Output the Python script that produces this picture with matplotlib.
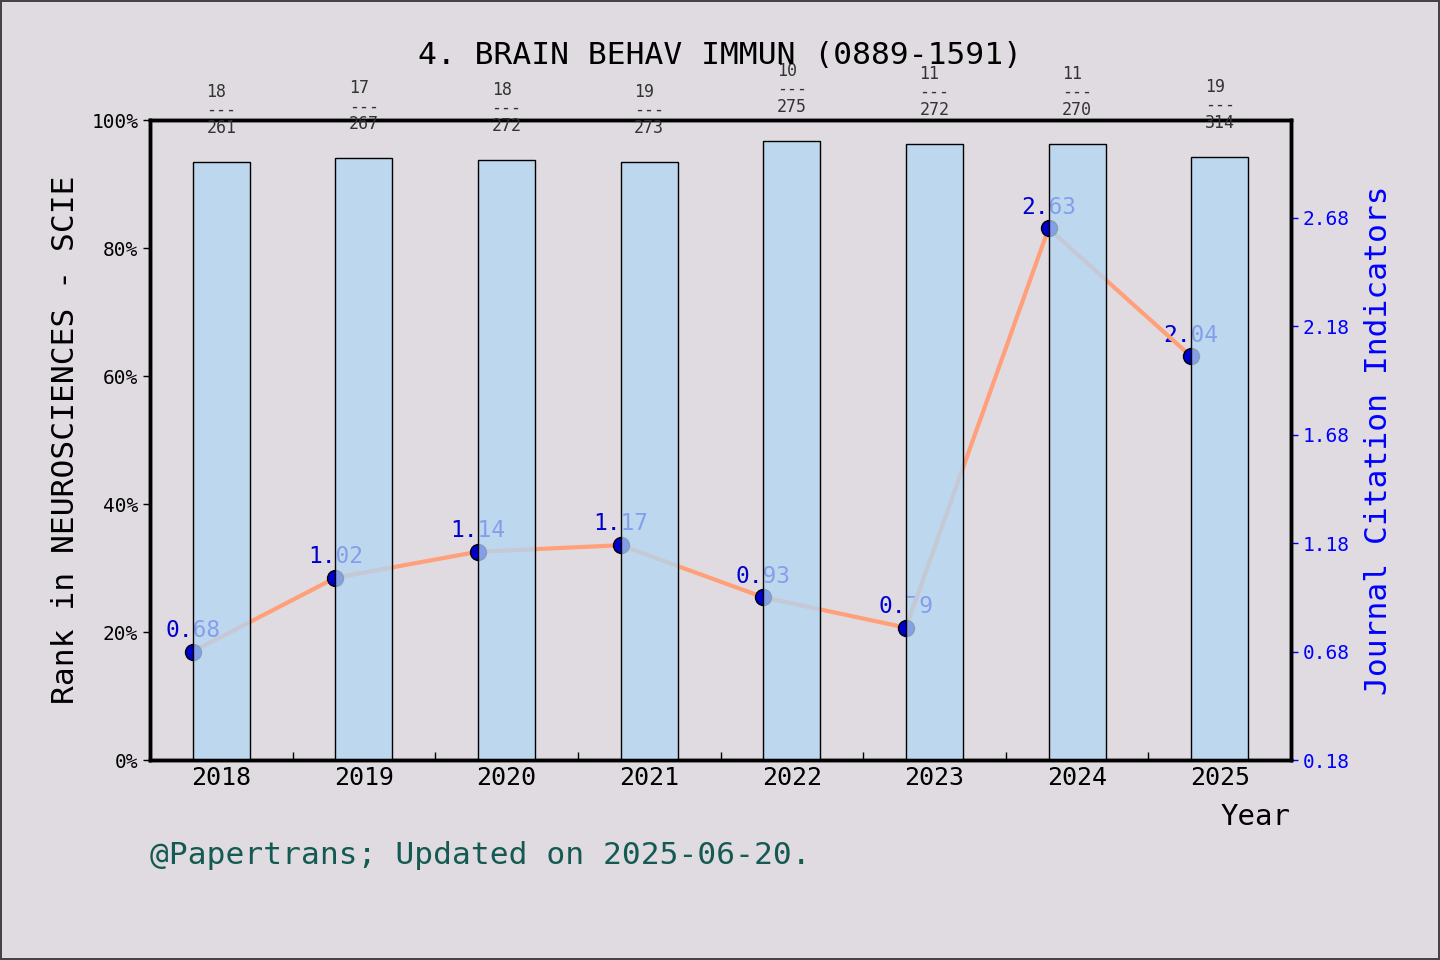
import numpy as np
import matplotlib
matplotlib.use('Agg')
import matplotlib.pyplot as plt

# data
years = ['2018', '2019', '2020', '2021', '2022', '2023', '2024', '2025']
rank = [18, 17, 18, 19, 10, 11, 11, 19]
total = [261, 267, 272, 273, 275, 272, 270, 314]
jci = [0.68, 1.02, 1.14, 1.17, 0.93, 0.79, 2.63, 2.04]

title = '4. BRAIN BEHAV IMMUN (0889-1591)'
footer = '@Papertrans; Updated on 2025-06-20.'

plt.rcParams['font.family'] = ['DejaVu Sans Mono']

BG = '#DFDBE0'
BAR = (178 / 255, 214 / 255, 244 / 255, 0.75)
LINE = '#FFA07A'
DOT = '#0000CD'

pct = [(t - r + 1) / t * 100 for r, t in zip(rank, total)]
x = np.arange(len(years))

fig = plt.figure(figsize=(14.4, 9.6), dpi=100, facecolor=BG,
                 edgecolor='#444444', linewidth=1.5)
ax = fig.add_axes([150 / 1440, 1 - 760 / 960, 1141 / 1440, 640 / 960])
axr = ax.twinx()
# bars sit on top of the line axis
ax.set_zorder(axr.get_zorder() + 1)
ax.patch.set_visible(False)
axr.patch.set_facecolor('white')

# line on right axis
axr.plot(x - 0.2, jci, color=LINE, lw=3, marker='o', ms=11.5,
         mfc=DOT, mec='black', mew=1, zorder=3)
for xi, v in zip(x, jci):
    axr.annotate(f'{v:.2f}', (xi - 0.2, v), xytext=(0, 7),
                 textcoords='offset points', ha='center', va='bottom',
                 color=DOT, fontsize=16.5, zorder=2)
lo = min(jci) - 0.5
axr.set_ylim(lo, max(jci) + 0.5)
rticks = lo + 0.5 * np.arange(6)
axr.set_yticks(rticks, [f'{t:.2f}' for t in rticks])
axr.tick_params(axis='y', colors='blue', labelsize=14, length=5, width=1)
axr.set_ylabel('Journal Citation Indicators', color='blue', fontsize=22.5,
               labelpad=10)

# bars on left axis
ax.bar(x, pct, width=0.4, facecolor=BAR, edgecolor='black', linewidth=1)
for xi, p, r, t in zip(x, pct, rank, total):
    ax.annotate(f'{r}\n---\n{t}', (xi, p), xytext=(0, 18),
                textcoords='offset points', ha='center', va='bottom',
                ma='left', fontsize=12, linespacing=1.0, color='#333333',
                annotation_clip=False)

ax.set_xlim(-0.5, len(years) - 0.5)
ax.set_ylim(0, 100)
ax.set_yticks(np.arange(0, 101, 20), [f'{v}%' for v in range(0, 101, 20)])
ax.tick_params(axis='y', labelsize=14, length=5, width=1)
ax.set_xticks(x, years)
ax.set_xticks(x[:-1] + 0.5, minor=True)
ax.tick_params(axis='x', which='major', length=0, labelsize=18, pad=4)
ax.tick_params(axis='x', which='minor', direction='in', length=6, width=1)
ax.set_ylabel('Rank in NEUROSCIENCES - SCIE', fontsize=22.5, labelpad=8)
ax.set_xlabel('Year', fontsize=21, loc='right', labelpad=10)

for a in (ax, axr):
    for s in a.spines.values():
        s.set_linewidth(2.5)

fig.text(0.5, 1 - 56 / 960, title, ha='center', va='center', fontsize=22.5)
fig.text(150 / 1440, 1 - 855 / 960, footer, ha='left', va='center',
         fontsize=22.5, color='#145A52')

fig.savefig('out.png', dpi=100, facecolor=BG, edgecolor='#444444')
